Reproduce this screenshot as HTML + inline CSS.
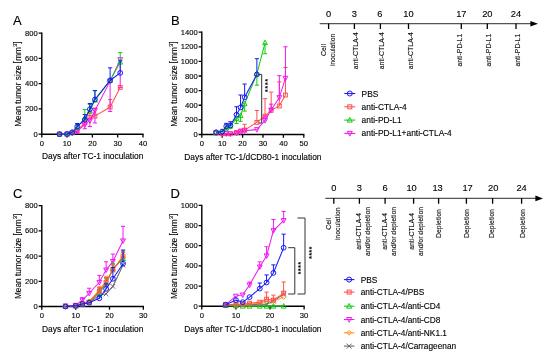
<!DOCTYPE html>
<html><head><meta charset="utf-8"><title>Figure</title>
<style>
html,body{margin:0;padding:0;background:#fff;}
svg{display:block;font-family:'Liberation Sans', sans-serif;fill:#000;}
text{stroke:#000;stroke-width:0.12px;}
</style></head><body>
<svg width="550" height="354" viewBox="0 0 550 354">
<rect width="550" height="354" fill="#fff"/>
<path d="M41.80 32.48V134.20H143.60" fill="none" stroke="#000" stroke-width="1.4"/>
<text x="41.80" y="146.00" text-anchor="middle" font-size="7.6">0</text>
<text x="67.10" y="146.00" text-anchor="middle" font-size="7.6">10</text>
<text x="92.40" y="146.00" text-anchor="middle" font-size="7.6">20</text>
<text x="117.70" y="146.00" text-anchor="middle" font-size="7.6">30</text>
<text x="143.00" y="146.00" text-anchor="middle" font-size="7.6">40</text>
<text x="37.70" y="136.70" text-anchor="end" font-size="7.6">0</text>
<text x="37.70" y="111.42" text-anchor="end" font-size="7.6">200</text>
<text x="37.70" y="86.14" text-anchor="end" font-size="7.6">400</text>
<text x="37.70" y="60.86" text-anchor="end" font-size="7.6">600</text>
<text x="37.70" y="35.58" text-anchor="end" font-size="7.6">800</text>
<path d="M41.80 134.20v3.2M67.10 134.20v3.2M92.40 134.20v3.2M117.70 134.20v3.2M143.00 134.20v3.2M41.80 134.20h-3.2M41.80 108.92h-3.2M41.80 83.64h-3.2M41.80 58.36h-3.2M41.80 33.08h-3.2" fill="none" stroke="#000" stroke-width="1.3"/>
<text x="92.70" y="158.90" text-anchor="middle" font-size="8.4">Days after TC-1 inoculation</text>
<text transform="translate(20.60 0) rotate(-90)" font-size="8.3" x="-126.80">Mean tumor size <tspan dy="-0.8">[</tspan><tspan dy="0.8">mm</tspan><tspan font-size="6" dy="-4">3</tspan><tspan dy="3.2">]</tspan></text>
<text x="13" y="25" font-size="13">A</text>
<path d="M77.22 130.41V128.51M75.12 128.51h4.2M84.81 122.82V119.03M82.71 119.03h4.2M89.87 117.26V113.22M87.77 113.22h4.2M94.93 116.12V108.04M92.83 108.04h4.2M110.11 107.02V99.44M108.01 99.44h4.2" fill="none" stroke="#ff5050" stroke-width="1"/>
<polyline points="59.51,134.20 67.10,134.20 72.16,132.94 77.22,130.41 84.81,122.82 89.87,117.26 94.93,116.12 110.11,107.02 120.23,87.43" fill="none" stroke="#ff5050" stroke-width="1.02"/>
<rect x="57.59" y="132.28" width="3.84" height="3.84" fill="none" stroke="#ff5050" stroke-width="1.0"/>
<rect x="65.18" y="132.28" width="3.84" height="3.84" fill="none" stroke="#ff5050" stroke-width="1.0"/>
<rect x="70.24" y="131.02" width="3.84" height="3.84" fill="none" stroke="#ff5050" stroke-width="1.0"/>
<rect x="75.30" y="128.49" width="3.84" height="3.84" fill="none" stroke="#ff5050" stroke-width="1.0"/>
<rect x="82.89" y="120.90" width="3.84" height="3.84" fill="none" stroke="#ff5050" stroke-width="1.0"/>
<rect x="87.95" y="115.34" width="3.84" height="3.84" fill="none" stroke="#ff5050" stroke-width="1.0"/>
<rect x="93.01" y="114.20" width="3.84" height="3.84" fill="none" stroke="#ff5050" stroke-width="1.0"/>
<rect x="108.19" y="105.10" width="3.84" height="3.84" fill="none" stroke="#ff5050" stroke-width="1.0"/>
<rect x="118.31" y="85.51" width="3.84" height="3.84" fill="none" stroke="#ff5050" stroke-width="1.0"/>
<path d="M77.22 131.04V132.94M75.12 132.94h4.2M84.81 124.72V128.76M82.71 128.76h4.2M89.87 120.55V126.49M87.77 126.49h4.2M94.93 110.44V122.95M92.83 122.95h4.2M110.11 81.11V111.45M108.01 111.45h4.2M120.23 59.62V87.43M118.13 87.43h4.2" fill="none" stroke="#f018f0" stroke-width="1"/>
<polyline points="59.51,134.20 67.10,134.20 72.16,133.19 77.22,131.04 84.81,124.72 89.87,120.55 94.93,110.44 110.11,81.11 120.23,59.62" fill="none" stroke="#f018f0" stroke-width="1.02"/>
<path d="M57.11 132.28L61.91 132.28L59.51 136.84Z" fill="none" stroke="#f018f0" stroke-width="1.0"/>
<path d="M64.70 132.28L69.50 132.28L67.10 136.84Z" fill="none" stroke="#f018f0" stroke-width="1.0"/>
<path d="M69.76 131.27L74.56 131.27L72.16 135.83Z" fill="none" stroke="#f018f0" stroke-width="1.0"/>
<path d="M74.82 129.12L79.62 129.12L77.22 133.68Z" fill="none" stroke="#f018f0" stroke-width="1.0"/>
<path d="M82.41 122.80L87.21 122.80L84.81 127.36Z" fill="none" stroke="#f018f0" stroke-width="1.0"/>
<path d="M87.47 118.63L92.27 118.63L89.87 123.19Z" fill="none" stroke="#f018f0" stroke-width="1.0"/>
<path d="M92.53 108.52L97.33 108.52L94.93 113.08Z" fill="none" stroke="#f018f0" stroke-width="1.0"/>
<path d="M107.71 79.19L112.51 79.19L110.11 83.75Z" fill="none" stroke="#f018f0" stroke-width="1.0"/>
<path d="M117.83 57.70L122.63 57.70L120.23 62.26Z" fill="none" stroke="#f018f0" stroke-width="1.0"/>
<path d="M77.22 127.25V124.09M75.12 124.09h4.2M84.81 117.77V109.55M82.71 109.55h4.2M89.87 110.82V104.50M87.77 104.50h4.2M94.93 100.07V90.59M92.83 90.59h4.2M120.23 62.15V52.67M118.13 52.67h4.2" fill="none" stroke="#10cc10" stroke-width="1"/>
<polyline points="59.51,134.20 67.10,133.95 72.16,132.30 77.22,127.25 84.81,117.77 89.87,110.82 94.93,100.07 110.11,80.48 120.23,62.15" fill="none" stroke="#10cc10" stroke-width="1.02"/>
<path d="M57.11 136.12L61.91 136.12L59.51 131.56Z" fill="none" stroke="#10cc10" stroke-width="1.0"/>
<path d="M64.70 135.87L69.50 135.87L67.10 131.31Z" fill="none" stroke="#10cc10" stroke-width="1.0"/>
<path d="M69.76 134.22L74.56 134.22L72.16 129.66Z" fill="none" stroke="#10cc10" stroke-width="1.0"/>
<path d="M74.82 129.17L79.62 129.17L77.22 124.61Z" fill="none" stroke="#10cc10" stroke-width="1.0"/>
<path d="M82.41 119.69L87.21 119.69L84.81 115.13Z" fill="none" stroke="#10cc10" stroke-width="1.0"/>
<path d="M87.47 112.74L92.27 112.74L89.87 108.18Z" fill="none" stroke="#10cc10" stroke-width="1.0"/>
<path d="M92.53 101.99L97.33 101.99L94.93 97.43Z" fill="none" stroke="#10cc10" stroke-width="1.0"/>
<path d="M107.71 82.40L112.51 82.40L110.11 77.84Z" fill="none" stroke="#10cc10" stroke-width="1.0"/>
<path d="M117.83 64.07L122.63 64.07L120.23 59.51Z" fill="none" stroke="#10cc10" stroke-width="1.0"/>
<path d="M77.22 126.62V123.46M75.12 123.46h4.2M84.81 119.66V114.61M82.71 114.61h4.2M89.87 109.17V103.48M87.77 103.48h4.2M94.93 99.44V90.59M92.83 90.59h4.2M110.11 80.48V67.84M108.01 67.84h4.2M120.23 72.90V60.89M118.13 60.89h4.2" fill="none" stroke="#1818f8" stroke-width="1"/>
<polyline points="59.51,134.20 67.10,133.95 72.16,132.30 77.22,126.62 84.81,119.66 89.87,109.17 94.93,99.44 110.11,80.48 120.23,72.90" fill="none" stroke="#1818f8" stroke-width="1.02"/>
<circle cx="59.51" cy="134.20" r="2.40" fill="none" stroke="#1818f8" stroke-width="1.0"/>
<circle cx="67.10" cy="133.95" r="2.40" fill="none" stroke="#1818f8" stroke-width="1.0"/>
<circle cx="72.16" cy="132.30" r="2.40" fill="none" stroke="#1818f8" stroke-width="1.0"/>
<circle cx="77.22" cy="126.62" r="2.40" fill="none" stroke="#1818f8" stroke-width="1.0"/>
<circle cx="84.81" cy="119.66" r="2.40" fill="none" stroke="#1818f8" stroke-width="1.0"/>
<circle cx="89.87" cy="109.17" r="2.40" fill="none" stroke="#1818f8" stroke-width="1.0"/>
<circle cx="94.93" cy="99.44" r="2.40" fill="none" stroke="#1818f8" stroke-width="1.0"/>
<circle cx="110.11" cy="80.48" r="2.40" fill="none" stroke="#1818f8" stroke-width="1.0"/>
<circle cx="120.23" cy="72.90" r="2.40" fill="none" stroke="#1818f8" stroke-width="1.0"/>
<path d="M201.80 31.56V134.50H304.40" fill="none" stroke="#000" stroke-width="1.4"/>
<text x="201.80" y="146.30" text-anchor="middle" font-size="7.6">0</text>
<text x="222.20" y="146.30" text-anchor="middle" font-size="7.6">10</text>
<text x="242.60" y="146.30" text-anchor="middle" font-size="7.6">20</text>
<text x="263.00" y="146.30" text-anchor="middle" font-size="7.6">30</text>
<text x="283.40" y="146.30" text-anchor="middle" font-size="7.6">40</text>
<text x="303.80" y="146.30" text-anchor="middle" font-size="7.6">50</text>
<text x="197.70" y="137.00" text-anchor="end" font-size="7.6">0</text>
<text x="197.70" y="122.38" text-anchor="end" font-size="7.6">200</text>
<text x="197.70" y="107.76" text-anchor="end" font-size="7.6">400</text>
<text x="197.70" y="93.14" text-anchor="end" font-size="7.6">600</text>
<text x="197.70" y="78.52" text-anchor="end" font-size="7.6">800</text>
<text x="197.70" y="63.90" text-anchor="end" font-size="7.6">1000</text>
<text x="197.70" y="49.28" text-anchor="end" font-size="7.6">1200</text>
<text x="197.70" y="34.66" text-anchor="end" font-size="7.6">1400</text>
<path d="M201.80 134.50v3.2M222.20 134.50v3.2M242.60 134.50v3.2M263.00 134.50v3.2M283.40 134.50v3.2M303.80 134.50v3.2M201.80 134.50h-3.2M201.80 119.88h-3.2M201.80 105.26h-3.2M201.80 90.64h-3.2M201.80 76.02h-3.2M201.80 61.40h-3.2M201.80 46.78h-3.2M201.80 32.16h-3.2" fill="none" stroke="#000" stroke-width="1.3"/>
<text x="252.90" y="159.90" text-anchor="middle" font-size="8.4">Days after TC-1/dCD80-1 inoculation</text>
<text transform="translate(176.60 0) rotate(-90)" font-size="8.3" x="-126.80">Mean tumor size <tspan dy="-0.8">[</tspan><tspan dy="0.8">mm</tspan><tspan font-size="6" dy="-4">3</tspan><tspan dy="3.2">]</tspan></text>
<text x="171" y="24.6" font-size="13">B</text>
<path d="M236.48 132.45V130.99M234.38 130.99h4.2M240.56 131.43V129.02M238.46 129.02h4.2M244.64 130.11V124.27M242.54 124.27h4.2M256.88 122.37V110.52M254.78 110.52h4.2M265.04 116.22V98.68M262.94 98.68h4.2M271.16 110.38V92.10M269.06 92.10h4.2M279.32 105.99V81.87M277.22 81.87h4.2M285.44 95.03V67.47M283.34 67.47h4.2" fill="none" stroke="#ff5050" stroke-width="1"/>
<polyline points="216.08,133.04 222.20,133.77 226.28,133.40 230.36,133.77 236.48,132.45 240.56,131.43 244.64,130.11 256.88,122.37 265.04,116.22 271.16,110.38 279.32,105.99 285.44,95.03" fill="none" stroke="#ff5050" stroke-width="1.02"/>
<rect x="214.16" y="131.12" width="3.84" height="3.84" fill="none" stroke="#ff5050" stroke-width="1.0"/>
<rect x="220.28" y="131.85" width="3.84" height="3.84" fill="none" stroke="#ff5050" stroke-width="1.0"/>
<rect x="224.36" y="131.48" width="3.84" height="3.84" fill="none" stroke="#ff5050" stroke-width="1.0"/>
<rect x="228.44" y="131.85" width="3.84" height="3.84" fill="none" stroke="#ff5050" stroke-width="1.0"/>
<rect x="234.56" y="130.53" width="3.84" height="3.84" fill="none" stroke="#ff5050" stroke-width="1.0"/>
<rect x="238.64" y="129.51" width="3.84" height="3.84" fill="none" stroke="#ff5050" stroke-width="1.0"/>
<rect x="242.72" y="128.19" width="3.84" height="3.84" fill="none" stroke="#ff5050" stroke-width="1.0"/>
<rect x="254.96" y="120.45" width="3.84" height="3.84" fill="none" stroke="#ff5050" stroke-width="1.0"/>
<rect x="263.12" y="114.30" width="3.84" height="3.84" fill="none" stroke="#ff5050" stroke-width="1.0"/>
<rect x="269.24" y="108.46" width="3.84" height="3.84" fill="none" stroke="#ff5050" stroke-width="1.0"/>
<rect x="277.40" y="104.07" width="3.84" height="3.84" fill="none" stroke="#ff5050" stroke-width="1.0"/>
<rect x="283.52" y="93.11" width="3.84" height="3.84" fill="none" stroke="#ff5050" stroke-width="1.0"/>
<path d="M265.04 120.46V116.08M262.94 116.08h4.2M271.16 110.01V104.16M269.06 104.16h4.2M279.32 97.58V75.65M277.22 75.65h4.2M285.44 78.21V46.78M283.34 46.78h4.2" fill="none" stroke="#f018f0" stroke-width="1"/>
<polyline points="216.08,133.04 222.20,133.77 226.28,133.77 230.36,133.77 236.48,133.18 240.56,131.94 244.64,130.70 256.88,129.53 265.04,120.46 271.16,110.01 279.32,97.58 285.44,78.21" fill="none" stroke="#f018f0" stroke-width="1.02"/>
<path d="M213.68 131.12L218.48 131.12L216.08 135.68Z" fill="none" stroke="#f018f0" stroke-width="1.0"/>
<path d="M219.80 131.85L224.60 131.85L222.20 136.41Z" fill="none" stroke="#f018f0" stroke-width="1.0"/>
<path d="M223.88 131.85L228.68 131.85L226.28 136.41Z" fill="none" stroke="#f018f0" stroke-width="1.0"/>
<path d="M227.96 131.85L232.76 131.85L230.36 136.41Z" fill="none" stroke="#f018f0" stroke-width="1.0"/>
<path d="M234.08 131.26L238.88 131.26L236.48 135.82Z" fill="none" stroke="#f018f0" stroke-width="1.0"/>
<path d="M238.16 130.02L242.96 130.02L240.56 134.58Z" fill="none" stroke="#f018f0" stroke-width="1.0"/>
<path d="M242.24 128.78L247.04 128.78L244.64 133.34Z" fill="none" stroke="#f018f0" stroke-width="1.0"/>
<path d="M254.48 127.61L259.28 127.61L256.88 132.17Z" fill="none" stroke="#f018f0" stroke-width="1.0"/>
<path d="M262.64 118.54L267.44 118.54L265.04 123.10Z" fill="none" stroke="#f018f0" stroke-width="1.0"/>
<path d="M268.76 108.09L273.56 108.09L271.16 112.65Z" fill="none" stroke="#f018f0" stroke-width="1.0"/>
<path d="M276.92 95.66L281.72 95.66L279.32 100.22Z" fill="none" stroke="#f018f0" stroke-width="1.0"/>
<path d="M283.04 76.29L287.84 76.29L285.44 80.85Z" fill="none" stroke="#f018f0" stroke-width="1.0"/>
<path d="M226.28 127.92V130.11M224.18 130.11h4.2M230.36 125.73V128.65M228.26 128.65h4.2M236.48 118.42V123.53M234.38 123.53h4.2M240.56 115.49V121.34M238.46 121.34h4.2M244.64 103.80V111.11M242.54 111.11h4.2M256.88 73.83V85.16M254.78 85.16h4.2M265.04 42.76V53.72M262.94 53.72h4.2" fill="none" stroke="#10cc10" stroke-width="1"/>
<polyline points="216.08,132.31 222.20,131.58 226.28,127.92 230.36,125.73 236.48,118.42 240.56,115.49 244.64,103.80 256.88,73.83 265.04,42.76" fill="none" stroke="#10cc10" stroke-width="1.02"/>
<path d="M213.68 134.23L218.48 134.23L216.08 129.67Z" fill="none" stroke="#10cc10" stroke-width="1.0"/>
<path d="M219.80 133.50L224.60 133.50L222.20 128.94Z" fill="none" stroke="#10cc10" stroke-width="1.0"/>
<path d="M223.88 129.84L228.68 129.84L226.28 125.28Z" fill="none" stroke="#10cc10" stroke-width="1.0"/>
<path d="M227.96 127.65L232.76 127.65L230.36 123.09Z" fill="none" stroke="#10cc10" stroke-width="1.0"/>
<path d="M234.08 120.34L238.88 120.34L236.48 115.78Z" fill="none" stroke="#10cc10" stroke-width="1.0"/>
<path d="M238.16 117.41L242.96 117.41L240.56 112.85Z" fill="none" stroke="#10cc10" stroke-width="1.0"/>
<path d="M242.24 105.72L247.04 105.72L244.64 101.16Z" fill="none" stroke="#10cc10" stroke-width="1.0"/>
<path d="M254.48 75.75L259.28 75.75L256.88 71.19Z" fill="none" stroke="#10cc10" stroke-width="1.0"/>
<path d="M262.64 44.68L267.44 44.68L265.04 40.12Z" fill="none" stroke="#10cc10" stroke-width="1.0"/>
<path d="M226.28 126.31V123.39M224.18 123.39h4.2M230.36 125.44V121.78M228.26 121.78h4.2M236.48 114.76V106.72M234.38 106.72h4.2M240.56 107.45V95.03M238.46 95.03h4.2M244.64 97.22V84.06M242.54 84.06h4.2M256.88 74.41V58.70M254.78 58.70h4.2" fill="none" stroke="#1818f8" stroke-width="1"/>
<polyline points="216.08,132.31 222.20,131.58 226.28,126.31 230.36,125.44 236.48,114.76 240.56,107.45 244.64,97.22 256.88,74.41" fill="none" stroke="#1818f8" stroke-width="1.02"/>
<circle cx="216.08" cy="132.31" r="2.40" fill="none" stroke="#1818f8" stroke-width="1.0"/>
<circle cx="222.20" cy="131.58" r="2.40" fill="none" stroke="#1818f8" stroke-width="1.0"/>
<circle cx="226.28" cy="126.31" r="2.40" fill="none" stroke="#1818f8" stroke-width="1.0"/>
<circle cx="230.36" cy="125.44" r="2.40" fill="none" stroke="#1818f8" stroke-width="1.0"/>
<circle cx="236.48" cy="114.76" r="2.40" fill="none" stroke="#1818f8" stroke-width="1.0"/>
<circle cx="240.56" cy="107.45" r="2.40" fill="none" stroke="#1818f8" stroke-width="1.0"/>
<circle cx="244.64" cy="97.22" r="2.40" fill="none" stroke="#1818f8" stroke-width="1.0"/>
<circle cx="256.88" cy="74.41" r="2.40" fill="none" stroke="#1818f8" stroke-width="1.0"/>
<path d="M258 74.4H261.7V123H258.6" fill="none" stroke="#333" stroke-width="1"/>
<text transform="translate(269.6 85.1) rotate(-90)" text-anchor="middle" font-size="6.5" letter-spacing="0.97" font-weight="bold">****</text>
<path d="M41.80 205.10V306.50H143.95" fill="none" stroke="#000" stroke-width="1.4"/>
<text x="41.80" y="318.30" text-anchor="middle" font-size="7.6">0</text>
<text x="75.65" y="318.30" text-anchor="middle" font-size="7.6">10</text>
<text x="109.50" y="318.30" text-anchor="middle" font-size="7.6">20</text>
<text x="143.35" y="318.30" text-anchor="middle" font-size="7.6">30</text>
<text x="37.70" y="309.00" text-anchor="end" font-size="7.6">0</text>
<text x="37.70" y="283.80" text-anchor="end" font-size="7.6">200</text>
<text x="37.70" y="258.60" text-anchor="end" font-size="7.6">400</text>
<text x="37.70" y="233.40" text-anchor="end" font-size="7.6">600</text>
<text x="37.70" y="208.20" text-anchor="end" font-size="7.6">800</text>
<path d="M41.80 306.50v3.2M75.65 306.50v3.2M109.50 306.50v3.2M143.35 306.50v3.2M41.80 306.50h-3.2M41.80 281.30h-3.2M41.80 256.10h-3.2M41.80 230.90h-3.2M41.80 205.70h-3.2" fill="none" stroke="#000" stroke-width="1.3"/>
<text x="92.70" y="331.80" text-anchor="middle" font-size="8.4">Days after TC-1 inoculation</text>
<text transform="translate(20.70 0) rotate(-90)" font-size="8.3" x="-299.10">Mean tumor size <tspan dy="-0.8">[</tspan><tspan dy="0.8">mm</tspan><tspan font-size="6" dy="-4">3</tspan><tspan dy="3.2">]</tspan></text>
<text x="13" y="197.5" font-size="13">C</text>
<polyline points="65.50,306.50 75.65,305.87 82.42,303.98 89.19,302.72 99.34,295.16 106.11,293.90 112.88,286.34 123.04,264.92" fill="none" stroke="#666666" stroke-width="1.02"/>
<path d="M63.10 304.10L67.90 308.90M63.10 308.90L67.90 304.10" fill="none" stroke="#666666" stroke-width="1.0"/>
<path d="M73.25 303.47L78.05 308.27M73.25 308.27L78.05 303.47" fill="none" stroke="#666666" stroke-width="1.0"/>
<path d="M80.02 301.58L84.82 306.38M80.02 306.38L84.82 301.58" fill="none" stroke="#666666" stroke-width="1.0"/>
<path d="M86.79 300.32L91.59 305.12M86.79 305.12L91.59 300.32" fill="none" stroke="#666666" stroke-width="1.0"/>
<path d="M96.94 292.76L101.75 297.56M96.94 297.56L101.75 292.76" fill="none" stroke="#666666" stroke-width="1.0"/>
<path d="M103.71 291.50L108.52 296.30M103.71 296.30L108.52 291.50" fill="none" stroke="#666666" stroke-width="1.0"/>
<path d="M110.48 283.94L115.28 288.74M110.48 288.74L115.28 283.94" fill="none" stroke="#666666" stroke-width="1.0"/>
<path d="M120.64 262.52L125.44 267.32M120.64 267.32L125.44 262.52" fill="none" stroke="#666666" stroke-width="1.0"/>
<path d="M99.34 290.12V286.34M97.25 286.34h4.2M106.11 281.30V276.26M104.02 276.26h4.2M112.88 269.96V264.92M110.78 264.92h4.2M123.04 257.36V252.32M120.94 252.32h4.2" fill="none" stroke="#ff9020" stroke-width="1"/>
<polyline points="65.50,306.50 75.65,305.87 82.42,303.98 89.19,301.46 99.34,290.12 106.11,281.30 112.88,269.96 123.04,257.36" fill="none" stroke="#ff9020" stroke-width="1.02"/>
<path d="M63.22 306.50L65.50 304.22L67.78 306.50L65.50 308.78Z" fill="none" stroke="#ff9020" stroke-width="1.0"/>
<path d="M73.37 305.87L75.65 303.59L77.93 305.87L75.65 308.15Z" fill="none" stroke="#ff9020" stroke-width="1.0"/>
<path d="M80.14 303.98L82.42 301.70L84.70 303.98L82.42 306.26Z" fill="none" stroke="#ff9020" stroke-width="1.0"/>
<path d="M86.91 301.46L89.19 299.18L91.47 301.46L89.19 303.74Z" fill="none" stroke="#ff9020" stroke-width="1.0"/>
<path d="M97.06 290.12L99.34 287.84L101.62 290.12L99.34 292.40Z" fill="none" stroke="#ff9020" stroke-width="1.0"/>
<path d="M103.83 281.30L106.11 279.02L108.39 281.30L106.11 283.58Z" fill="none" stroke="#ff9020" stroke-width="1.0"/>
<path d="M110.60 269.96L112.88 267.68L115.16 269.96L112.88 272.24Z" fill="none" stroke="#ff9020" stroke-width="1.0"/>
<path d="M120.76 257.36L123.04 255.08L125.32 257.36L123.04 259.64Z" fill="none" stroke="#ff9020" stroke-width="1.0"/>
<path d="M82.42 300.20V297.68M80.32 297.68h4.2M89.19 293.27V288.23M87.09 288.23h4.2M99.34 282.31V275.38M97.25 275.38h4.2M106.11 269.96V261.77M104.02 261.77h4.2M112.88 261.39V254.08M110.78 254.08h4.2M123.04 240.85V226.36M120.94 226.36h4.2" fill="none" stroke="#f018f0" stroke-width="1"/>
<polyline points="65.50,305.87 75.65,305.24 82.42,300.20 89.19,293.27 99.34,282.31 106.11,269.96 112.88,261.39 123.04,240.85" fill="none" stroke="#f018f0" stroke-width="1.02"/>
<path d="M63.10 303.95L67.90 303.95L65.50 308.51Z" fill="none" stroke="#f018f0" stroke-width="1.0"/>
<path d="M73.25 303.32L78.05 303.32L75.65 307.88Z" fill="none" stroke="#f018f0" stroke-width="1.0"/>
<path d="M80.02 298.28L84.82 298.28L82.42 302.84Z" fill="none" stroke="#f018f0" stroke-width="1.0"/>
<path d="M86.79 291.35L91.59 291.35L89.19 295.91Z" fill="none" stroke="#f018f0" stroke-width="1.0"/>
<path d="M96.94 280.39L101.75 280.39L99.34 284.95Z" fill="none" stroke="#f018f0" stroke-width="1.0"/>
<path d="M103.71 268.04L108.52 268.04L106.11 272.60Z" fill="none" stroke="#f018f0" stroke-width="1.0"/>
<path d="M110.48 259.47L115.28 259.47L112.88 264.03Z" fill="none" stroke="#f018f0" stroke-width="1.0"/>
<path d="M120.64 238.93L125.44 238.93L123.04 243.49Z" fill="none" stroke="#f018f0" stroke-width="1.0"/>
<path d="M99.34 292.64V288.86M97.25 288.86h4.2M106.11 283.82V278.78M104.02 278.78h4.2M112.88 268.70V263.66M110.78 263.66h4.2M123.04 258.62V252.32M120.94 252.32h4.2" fill="none" stroke="#10cc10" stroke-width="1"/>
<polyline points="65.50,306.50 75.65,305.87 82.42,303.98 89.19,302.09 99.34,292.64 106.11,283.82 112.88,268.70 123.04,258.62" fill="none" stroke="#10cc10" stroke-width="1.02"/>
<path d="M63.10 308.42L67.90 308.42L65.50 303.86Z" fill="none" stroke="#10cc10" stroke-width="1.0"/>
<path d="M73.25 307.79L78.05 307.79L75.65 303.23Z" fill="none" stroke="#10cc10" stroke-width="1.0"/>
<path d="M80.02 305.90L84.82 305.90L82.42 301.34Z" fill="none" stroke="#10cc10" stroke-width="1.0"/>
<path d="M86.79 304.01L91.59 304.01L89.19 299.45Z" fill="none" stroke="#10cc10" stroke-width="1.0"/>
<path d="M96.94 294.56L101.75 294.56L99.34 290.00Z" fill="none" stroke="#10cc10" stroke-width="1.0"/>
<path d="M103.71 285.74L108.52 285.74L106.11 281.18Z" fill="none" stroke="#10cc10" stroke-width="1.0"/>
<path d="M110.48 270.62L115.28 270.62L112.88 266.06Z" fill="none" stroke="#10cc10" stroke-width="1.0"/>
<path d="M120.64 260.54L125.44 260.54L123.04 255.98Z" fill="none" stroke="#10cc10" stroke-width="1.0"/>
<path d="M99.34 291.38V287.60M97.25 287.60h4.2M106.11 282.56V277.52M104.02 277.52h4.2M112.88 269.96V264.92M110.78 264.92h4.2M123.04 256.10V251.06M120.94 251.06h4.2" fill="none" stroke="#ff5050" stroke-width="1"/>
<polyline points="65.50,306.50 75.65,305.87 82.42,303.98 89.19,302.09 99.34,291.38 106.11,282.56 112.88,269.96 123.04,256.10" fill="none" stroke="#ff5050" stroke-width="1.02"/>
<rect x="63.58" y="304.58" width="3.84" height="3.84" fill="none" stroke="#ff5050" stroke-width="1.0"/>
<rect x="73.73" y="303.95" width="3.84" height="3.84" fill="none" stroke="#ff5050" stroke-width="1.0"/>
<rect x="80.50" y="302.06" width="3.84" height="3.84" fill="none" stroke="#ff5050" stroke-width="1.0"/>
<rect x="87.27" y="300.17" width="3.84" height="3.84" fill="none" stroke="#ff5050" stroke-width="1.0"/>
<rect x="97.42" y="289.46" width="3.84" height="3.84" fill="none" stroke="#ff5050" stroke-width="1.0"/>
<rect x="104.19" y="280.64" width="3.84" height="3.84" fill="none" stroke="#ff5050" stroke-width="1.0"/>
<rect x="110.96" y="268.04" width="3.84" height="3.84" fill="none" stroke="#ff5050" stroke-width="1.0"/>
<rect x="121.12" y="254.18" width="3.84" height="3.84" fill="none" stroke="#ff5050" stroke-width="1.0"/>
<path d="M99.34 298.31V295.79M97.25 295.79h4.2M106.11 288.86V283.82M104.02 283.82h4.2M112.88 278.78V267.44M110.78 267.44h4.2M123.04 263.66V250.05M120.94 250.05h4.2" fill="none" stroke="#1818f8" stroke-width="1"/>
<polyline points="65.50,306.50 75.65,305.87 82.42,303.98 89.19,302.72 99.34,298.31 106.11,288.86 112.88,278.78 123.04,263.66" fill="none" stroke="#1818f8" stroke-width="1.02"/>
<circle cx="65.50" cy="306.50" r="2.40" fill="none" stroke="#1818f8" stroke-width="1.0"/>
<circle cx="75.65" cy="305.87" r="2.40" fill="none" stroke="#1818f8" stroke-width="1.0"/>
<circle cx="82.42" cy="303.98" r="2.40" fill="none" stroke="#1818f8" stroke-width="1.0"/>
<circle cx="89.19" cy="302.72" r="2.40" fill="none" stroke="#1818f8" stroke-width="1.0"/>
<circle cx="99.34" cy="298.31" r="2.40" fill="none" stroke="#1818f8" stroke-width="1.0"/>
<circle cx="106.11" cy="288.86" r="2.40" fill="none" stroke="#1818f8" stroke-width="1.0"/>
<circle cx="112.88" cy="278.78" r="2.40" fill="none" stroke="#1818f8" stroke-width="1.0"/>
<circle cx="123.04" cy="263.66" r="2.40" fill="none" stroke="#1818f8" stroke-width="1.0"/>
<path d="M201.80 204.80V306.20H304.70" fill="none" stroke="#000" stroke-width="1.4"/>
<text x="201.80" y="318.00" text-anchor="middle" font-size="7.6">0</text>
<text x="235.90" y="318.00" text-anchor="middle" font-size="7.6">10</text>
<text x="270.00" y="318.00" text-anchor="middle" font-size="7.6">20</text>
<text x="304.10" y="318.00" text-anchor="middle" font-size="7.6">30</text>
<text x="197.70" y="308.70" text-anchor="end" font-size="7.6">0</text>
<text x="197.70" y="288.54" text-anchor="end" font-size="7.6">200</text>
<text x="197.70" y="268.38" text-anchor="end" font-size="7.6">400</text>
<text x="197.70" y="248.22" text-anchor="end" font-size="7.6">600</text>
<text x="197.70" y="228.06" text-anchor="end" font-size="7.6">800</text>
<text x="197.70" y="207.90" text-anchor="end" font-size="7.6">1000</text>
<path d="M201.80 306.20v3.2M235.90 306.20v3.2M270.00 306.20v3.2M304.10 306.20v3.2M201.80 306.20h-3.2M201.80 286.04h-3.2M201.80 265.88h-3.2M201.80 245.72h-3.2M201.80 225.56h-3.2M201.80 205.40h-3.2" fill="none" stroke="#000" stroke-width="1.3"/>
<text x="252.90" y="331.60" text-anchor="middle" font-size="8.4">Days after TC-1/dCD80-1 inoculation</text>
<text transform="translate(176.60 0) rotate(-90)" font-size="8.3" x="-299.10">Mean tumor size <tspan dy="-0.8">[</tspan><tspan dy="0.8">mm</tspan><tspan font-size="6" dy="-4">3</tspan><tspan dy="3.2">]</tspan></text>
<text x="170.6" y="198.1" font-size="13">D</text>
<polyline points="225.67,305.19 235.90,305.19 242.72,305.19 249.54,304.69 259.77,304.18 266.59,304.18 273.41,301.16 283.64,294.10" fill="none" stroke="#666666" stroke-width="1.02"/>
<path d="M223.27 302.79L228.07 307.59M223.27 307.59L228.07 302.79" fill="none" stroke="#666666" stroke-width="1.0"/>
<path d="M233.50 302.79L238.30 307.59M233.50 307.59L238.30 302.79" fill="none" stroke="#666666" stroke-width="1.0"/>
<path d="M240.32 302.79L245.12 307.59M240.32 307.59L245.12 302.79" fill="none" stroke="#666666" stroke-width="1.0"/>
<path d="M247.14 302.29L251.94 307.09M247.14 307.09L251.94 302.29" fill="none" stroke="#666666" stroke-width="1.0"/>
<path d="M257.37 301.78L262.17 306.58M257.37 306.58L262.17 301.78" fill="none" stroke="#666666" stroke-width="1.0"/>
<path d="M264.19 301.78L268.99 306.58M264.19 306.58L268.99 301.78" fill="none" stroke="#666666" stroke-width="1.0"/>
<path d="M271.01 298.76L275.81 303.56M271.01 303.56L275.81 298.76" fill="none" stroke="#666666" stroke-width="1.0"/>
<path d="M281.24 291.70L286.04 296.50M281.24 296.50L286.04 291.70" fill="none" stroke="#666666" stroke-width="1.0"/>
<polyline points="225.67,305.19 235.90,304.69 242.72,304.69 249.54,304.18 259.77,303.18 266.59,301.16 273.41,301.16 283.64,297.13" fill="none" stroke="#ff9020" stroke-width="1.02"/>
<path d="M223.39 305.19L225.67 302.91L227.95 305.19L225.67 307.47Z" fill="none" stroke="#ff9020" stroke-width="1.0"/>
<path d="M233.62 304.69L235.90 302.41L238.18 304.69L235.90 306.97Z" fill="none" stroke="#ff9020" stroke-width="1.0"/>
<path d="M240.44 304.69L242.72 302.41L245.00 304.69L242.72 306.97Z" fill="none" stroke="#ff9020" stroke-width="1.0"/>
<path d="M247.26 304.18L249.54 301.90L251.82 304.18L249.54 306.46Z" fill="none" stroke="#ff9020" stroke-width="1.0"/>
<path d="M257.49 303.18L259.77 300.90L262.05 303.18L259.77 305.46Z" fill="none" stroke="#ff9020" stroke-width="1.0"/>
<path d="M264.31 301.16L266.59 298.88L268.87 301.16L266.59 303.44Z" fill="none" stroke="#ff9020" stroke-width="1.0"/>
<path d="M271.13 301.16L273.41 298.88L275.69 301.16L273.41 303.44Z" fill="none" stroke="#ff9020" stroke-width="1.0"/>
<path d="M281.36 297.13L283.64 294.85L285.92 297.13L283.64 299.41Z" fill="none" stroke="#ff9020" stroke-width="1.0"/>
<polyline points="225.67,305.70 235.90,305.90 242.72,306.20 249.54,306.20 259.77,306.20 266.59,306.20 273.41,306.20 283.64,306.20" fill="none" stroke="#10cc10" stroke-width="1.02"/>
<path d="M223.27 307.62L228.07 307.62L225.67 303.06Z" fill="none" stroke="#10cc10" stroke-width="1.0"/>
<path d="M233.50 307.82L238.30 307.82L235.90 303.26Z" fill="none" stroke="#10cc10" stroke-width="1.0"/>
<path d="M240.32 308.12L245.12 308.12L242.72 303.56Z" fill="none" stroke="#10cc10" stroke-width="1.0"/>
<path d="M247.14 308.12L251.94 308.12L249.54 303.56Z" fill="none" stroke="#10cc10" stroke-width="1.0"/>
<path d="M257.37 308.12L262.17 308.12L259.77 303.56Z" fill="none" stroke="#10cc10" stroke-width="1.0"/>
<path d="M264.19 308.12L268.99 308.12L266.59 303.56Z" fill="none" stroke="#10cc10" stroke-width="1.0"/>
<path d="M271.01 308.12L275.81 308.12L273.41 303.56Z" fill="none" stroke="#10cc10" stroke-width="1.0"/>
<path d="M281.24 308.12L286.04 308.12L283.64 303.56Z" fill="none" stroke="#10cc10" stroke-width="1.0"/>
<path d="M249.54 285.03V282.01M247.44 282.01h4.2M259.77 266.89V261.85M257.67 261.85h4.2M266.59 255.80V246.73M264.49 246.73h4.2M273.41 230.60V219.51M271.31 219.51h4.2M283.64 220.52V211.45M281.54 211.45h4.2" fill="none" stroke="#f018f0" stroke-width="1"/>
<polyline points="225.67,304.69 235.90,296.12 242.72,294.91 249.54,285.03 259.77,266.89 266.59,255.80 273.41,230.60 283.64,220.52" fill="none" stroke="#f018f0" stroke-width="1.02"/>
<path d="M223.27 302.77L228.07 302.77L225.67 307.33Z" fill="none" stroke="#f018f0" stroke-width="1.0"/>
<path d="M233.50 294.20L238.30 294.20L235.90 298.76Z" fill="none" stroke="#f018f0" stroke-width="1.0"/>
<path d="M240.32 292.99L245.12 292.99L242.72 297.55Z" fill="none" stroke="#f018f0" stroke-width="1.0"/>
<path d="M247.14 283.11L251.94 283.11L249.54 287.67Z" fill="none" stroke="#f018f0" stroke-width="1.0"/>
<path d="M257.37 264.97L262.17 264.97L259.77 269.53Z" fill="none" stroke="#f018f0" stroke-width="1.0"/>
<path d="M264.19 253.88L268.99 253.88L266.59 258.44Z" fill="none" stroke="#f018f0" stroke-width="1.0"/>
<path d="M271.01 228.68L275.81 228.68L273.41 233.24Z" fill="none" stroke="#f018f0" stroke-width="1.0"/>
<path d="M281.24 218.60L286.04 218.60L283.64 223.16Z" fill="none" stroke="#f018f0" stroke-width="1.0"/>
<path d="M266.59 299.14V292.09M264.49 292.09h4.2M273.41 300.15V295.11M271.31 295.11h4.2M283.64 293.10V282.01M281.54 282.01h4.2" fill="none" stroke="#ff5050" stroke-width="1"/>
<polyline points="225.67,304.69 235.90,304.18 242.72,304.18 249.54,303.18 259.77,302.17 266.59,299.14 273.41,300.15 283.64,293.10" fill="none" stroke="#ff5050" stroke-width="1.02"/>
<rect x="223.75" y="302.77" width="3.84" height="3.84" fill="none" stroke="#ff5050" stroke-width="1.0"/>
<rect x="233.98" y="302.26" width="3.84" height="3.84" fill="none" stroke="#ff5050" stroke-width="1.0"/>
<rect x="240.80" y="302.26" width="3.84" height="3.84" fill="none" stroke="#ff5050" stroke-width="1.0"/>
<rect x="247.62" y="301.26" width="3.84" height="3.84" fill="none" stroke="#ff5050" stroke-width="1.0"/>
<rect x="257.85" y="300.25" width="3.84" height="3.84" fill="none" stroke="#ff5050" stroke-width="1.0"/>
<rect x="264.67" y="297.22" width="3.84" height="3.84" fill="none" stroke="#ff5050" stroke-width="1.0"/>
<rect x="271.49" y="298.23" width="3.84" height="3.84" fill="none" stroke="#ff5050" stroke-width="1.0"/>
<rect x="281.72" y="291.18" width="3.84" height="3.84" fill="none" stroke="#ff5050" stroke-width="1.0"/>
<path d="M259.77 288.56V283.02M257.67 283.02h4.2M266.59 282.51V274.95M264.49 274.95h4.2M273.41 272.94V264.87M271.31 264.87h4.2M283.64 247.74V234.13M281.54 234.13h4.2" fill="none" stroke="#1818f8" stroke-width="1"/>
<polyline points="225.67,304.69 235.90,300.15 242.72,302.17 249.54,297.13 259.77,288.56 266.59,282.51 273.41,272.94 283.64,247.74" fill="none" stroke="#1818f8" stroke-width="1.02"/>
<circle cx="225.67" cy="304.69" r="2.40" fill="none" stroke="#1818f8" stroke-width="1.0"/>
<circle cx="235.90" cy="300.15" r="2.40" fill="none" stroke="#1818f8" stroke-width="1.0"/>
<circle cx="242.72" cy="302.17" r="2.40" fill="none" stroke="#1818f8" stroke-width="1.0"/>
<circle cx="249.54" cy="297.13" r="2.40" fill="none" stroke="#1818f8" stroke-width="1.0"/>
<circle cx="259.77" cy="288.56" r="2.40" fill="none" stroke="#1818f8" stroke-width="1.0"/>
<circle cx="266.59" cy="282.51" r="2.40" fill="none" stroke="#1818f8" stroke-width="1.0"/>
<circle cx="273.41" cy="272.94" r="2.40" fill="none" stroke="#1818f8" stroke-width="1.0"/>
<circle cx="283.64" cy="247.74" r="2.40" fill="none" stroke="#1818f8" stroke-width="1.0"/>
<path d="M288.2 247.7H294.8V294H288.2" fill="none" stroke="#333" stroke-width="1"/>
<path d="M297.5 218H305V294H297.5" fill="none" stroke="#333" stroke-width="1"/>
<text transform="translate(302.9 267.8) rotate(-90)" text-anchor="middle" font-size="6.5" letter-spacing="0.67" font-weight="bold">****</text>
<text transform="translate(314 252.4) rotate(-90)" text-anchor="middle" font-size="6.5" letter-spacing="0.67" font-weight="bold">****</text>
<path d="M319.7 23.7H532" fill="none" stroke="#555" stroke-width="1.25"/>
<path d="M538 23.7L530.4 20.9V26.5Z" fill="#000"/>
<text x="328.6" y="17.40" text-anchor="middle" font-size="9.3">0</text>
<text x="354.4" y="17.40" text-anchor="middle" font-size="9.3">3</text>
<text x="379.8" y="17.40" text-anchor="middle" font-size="9.3">6</text>
<text x="408.5" y="17.40" text-anchor="middle" font-size="9.3">10</text>
<text x="461.3" y="17.40" text-anchor="middle" font-size="9.3">17</text>
<text x="487.3" y="17.40" text-anchor="middle" font-size="9.3">20</text>
<text x="516" y="17.40" text-anchor="middle" font-size="9.3">24</text>
<path d="M328.6 23.4v5.6M354.4 23.4v5.6M380.4 23.4v5.6M408.5 23.4v5.6M461.3 23.4v5.6M487.3 23.4v5.6M516 23.4v5.6" fill="none" stroke="#000" stroke-width="1.3"/>
<text transform="translate(325.90 50) rotate(-90)" text-anchor="middle" font-size="6.85" stroke="none" fill="#151515">Cell</text>
<text transform="translate(335.00 50) rotate(-90)" text-anchor="middle" font-size="6.85" stroke="none" fill="#151515">inoculation</text>
<text transform="translate(358.30 69.2) rotate(-90)" text-anchor="start" font-size="6.85" stroke="none" fill="#151515">anti-CTLA-4</text>
<text transform="translate(384.10 69.2) rotate(-90)" text-anchor="start" font-size="6.85" stroke="none" fill="#151515">anti-CTLA-4</text>
<text transform="translate(412.80 69.2) rotate(-90)" text-anchor="start" font-size="6.85" stroke="none" fill="#151515">anti-CTLA-4</text>
<text transform="translate(461.80 66.5) rotate(-90)" text-anchor="start" font-size="6.85" stroke="none" fill="#151515">anti-PD-L1</text>
<text transform="translate(490.50 66.5) rotate(-90)" text-anchor="start" font-size="6.85" stroke="none" fill="#151515">anti-PD-L1</text>
<text transform="translate(520.30 66.5) rotate(-90)" text-anchor="start" font-size="6.85" stroke="none" fill="#151515">anti-PD-L1</text>
<path d="M325.3 198.4H537" fill="none" stroke="#555" stroke-width="1.25"/>
<path d="M543 198.4L535.4 195.6V201.20000000000002Z" fill="#000"/>
<text x="333.8" y="191.20" text-anchor="middle" font-size="9.3">0</text>
<text x="359.4" y="191.20" text-anchor="middle" font-size="9.3">3</text>
<text x="385.1" y="191.20" text-anchor="middle" font-size="9.3">6</text>
<text x="411.6" y="191.20" text-anchor="middle" font-size="9.3">10</text>
<text x="437.6" y="191.20" text-anchor="middle" font-size="9.3">13</text>
<text x="467.6" y="191.20" text-anchor="middle" font-size="9.3">17</text>
<text x="493.2" y="191.20" text-anchor="middle" font-size="9.3">20</text>
<text x="521.6" y="191.20" text-anchor="middle" font-size="9.3">24</text>
<path d="M333.8 198.1v5.6M359.4 198.1v5.6M385.1 198.1v5.6M413.6 198.1v5.6M438.6 198.1v5.6M466.4 198.1v5.6M492.6 198.1v5.6M521.6 198.1v5.6" fill="none" stroke="#000" stroke-width="1.3"/>
<text transform="translate(331.00 223.8) rotate(-90)" text-anchor="middle" font-size="6.85" stroke="none" fill="#151515">Cell</text>
<text transform="translate(340.10 223.8) rotate(-90)" text-anchor="middle" font-size="6.85" stroke="none" fill="#151515">inoculation</text>
<text transform="translate(361.20 231.4) rotate(-90)" text-anchor="middle" font-size="6.85" stroke="none" fill="#151515">anti-CTLA-4</text>
<text transform="translate(369.80 231.4) rotate(-90)" text-anchor="middle" font-size="6.85" stroke="none" fill="#151515">and/or depletion</text>
<text transform="translate(386.90 231.4) rotate(-90)" text-anchor="middle" font-size="6.85" stroke="none" fill="#151515">anti-CTLA-4</text>
<text transform="translate(395.50 231.4) rotate(-90)" text-anchor="middle" font-size="6.85" stroke="none" fill="#151515">and/or depletion</text>
<text transform="translate(414.10 231.4) rotate(-90)" text-anchor="middle" font-size="6.85" stroke="none" fill="#151515">anti-CTLA-4</text>
<text transform="translate(422.70 231.4) rotate(-90)" text-anchor="middle" font-size="6.85" stroke="none" fill="#151515">and/or depletion</text>
<text transform="translate(441.10 238) rotate(-90)" text-anchor="start" font-size="6.85" stroke="none" fill="#151515">Depletion</text>
<text transform="translate(468.80 238) rotate(-90)" text-anchor="start" font-size="6.85" stroke="none" fill="#151515">Depletion</text>
<text transform="translate(493.80 238) rotate(-90)" text-anchor="start" font-size="6.85" stroke="none" fill="#151515">Depletion</text>
<text transform="translate(524.50 238) rotate(-90)" text-anchor="start" font-size="6.85" stroke="none" fill="#151515">Depletion</text>
<path d="M344.3 93.50H355.3" stroke="#1818f8" stroke-width="1.1" fill="none"/>
<circle cx="349.80" cy="93.50" r="2.50" fill="none" stroke="#1818f8" stroke-width="1.0"/>
<text x="361.6" y="96.50" font-size="8.4">PBS</text>
<path d="M344.3 106.80H355.3" stroke="#ff5050" stroke-width="1.1" fill="none"/>
<rect x="347.80" y="104.80" width="4.00" height="4.00" fill="none" stroke="#ff5050" stroke-width="1.0"/>
<text x="361.6" y="109.80" font-size="8.4">anti-CTLA-4</text>
<path d="M344.3 120.10H355.3" stroke="#10cc10" stroke-width="1.1" fill="none"/>
<path d="M347.30 122.10L352.30 122.10L349.80 117.35Z" fill="none" stroke="#10cc10" stroke-width="1.0"/>
<text x="361.6" y="123.10" font-size="8.4">anti-PD-L1</text>
<path d="M344.3 133.40H355.3" stroke="#f018f0" stroke-width="1.1" fill="none"/>
<path d="M347.30 131.40L352.30 131.40L349.80 136.15Z" fill="none" stroke="#f018f0" stroke-width="1.0"/>
<text x="361.6" y="136.40" font-size="8.4">anti-PD-L1+anti-CTLA-4</text>
<path d="M343.9 279.60H354.4" stroke="#1818f8" stroke-width="1.1" fill="none"/>
<circle cx="349.15" cy="279.60" r="2.50" fill="none" stroke="#1818f8" stroke-width="1.0"/>
<text x="360.7" y="282.60" font-size="8.3">PBS</text>
<path d="M343.9 292.10H354.4" stroke="#ff5050" stroke-width="1.1" fill="none"/>
<rect x="347.15" y="290.10" width="4.00" height="4.00" fill="none" stroke="#ff5050" stroke-width="1.0"/>
<text x="360.7" y="295.10" font-size="8.3">anti-CTLA-4/PBS</text>
<path d="M343.9 306.20H354.4" stroke="#10cc10" stroke-width="1.1" fill="none"/>
<path d="M346.65 308.20L351.65 308.20L349.15 303.45Z" fill="none" stroke="#10cc10" stroke-width="1.0"/>
<text x="360.7" y="309.20" font-size="8.3">anti-CTLA-4/anti-CD4</text>
<path d="M343.9 319.50H354.4" stroke="#f018f0" stroke-width="1.1" fill="none"/>
<path d="M346.65 317.50L351.65 317.50L349.15 322.25Z" fill="none" stroke="#f018f0" stroke-width="1.0"/>
<text x="360.7" y="322.50" font-size="8.3">anti-CTLA-4/anti-CD8</text>
<path d="M343.9 332.80H354.4" stroke="#ff9020" stroke-width="1.1" fill="none"/>
<path d="M346.77 332.80L349.15 330.43L351.52 332.80L349.15 335.18Z" fill="none" stroke="#ff9020" stroke-width="1.0"/>
<text x="360.7" y="335.80" font-size="8.3">anti-CTLA-4/anti-NK1.1</text>
<path d="M343.9 346.10H354.4" stroke="#666666" stroke-width="1.1" fill="none"/>
<path d="M346.65 343.60L351.65 348.60M346.65 348.60L351.65 343.60" fill="none" stroke="#666666" stroke-width="1.0"/>
<text x="360.7" y="349.10" font-size="8.3">anti-CTLA-4/Carrageenan</text>
</svg></body></html>
